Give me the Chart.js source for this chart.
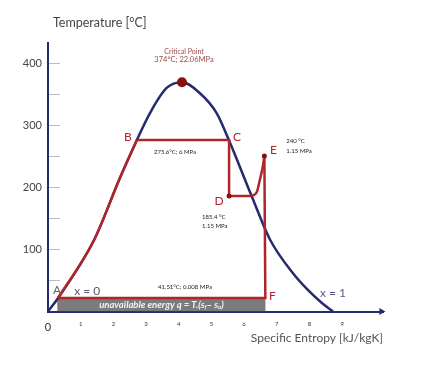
<!DOCTYPE html>
<html><head><meta charset="utf-8">
<script src="https://cdn.jsdelivr.net/npm/chart.js@4.4.0/dist/chart.umd.min.js"></script>
<style>html,body{margin:0;padding:0;background:#fff;}canvas{display:block}</style>
</head><body>
<canvas id="c" width="435" height="367"></canvas>
<script>
// ---- data (entropy kJ/kgK, temperature °C) ----
const domeEntropy = [0, 0.31, 1.41, 2.20, 2.72, 3.12, 3.63, 4.10, 4.65, 5.16, 5.54, 6.23, 6.80, 7.49, 7.95, 8.38, 8.72];
const domeTemp    = [0, 21.8, 115.3, 215.3, 276.6, 320, 360.5, 369.7, 352, 320, 275.8, 186.3, 115.3, 62, 34.7, 13.7, 0];

const pumpBoilerEntropy = [0.31, 1.41, 2.20, 2.72];
const pumpBoilerTemp    = [21.8, 115.3, 215.3, 276.6];
const bcdEntropy = [2.72, 5.54, 5.54, 6.23];
const bcdTemp    = [276.6, 276.6, 186.3, 186.3];
const reheatEntropy = [6.23, 6.39, 6.48, 6.57, 6.62];
const reheatTemp    = [186.3, 192.7, 212, 233, 250.8];
const efaEntropy = [6.62, 6.65, 0.31];
const efaTemp    = [250.8, 21.8, 21.8];

const criticalEntropy = [4.10];
const criticalTemp    = [369.7];
const stateDotEntropy = [5.54, 6.62];   // D, E
const stateDotTemp    = [186.3, 250.8];

const unavailEntropy = [0.28, 6.66];
const unavailTemp    = [20, 20];

const xTickLabels = ['0','1','2','3','4','5','6','7','8','9'];
const yTickLabels = {100:'100', 200:'200', 300:'300', 400:'400'};

const X_MAX = 10.25, Y_MAX = 433;
const NAVY = '#262a6e', RED = '#b0242a', DARKRED = '#8a1010';

const pts = (xs, ys) => xs.map((v, i) => ({x: v, y: ys[i]}));

const annot = {
  id: 'annot',
  afterDatasetsDraw(chart) {
    const {ctx, scales: {x, y}, chartArea} = chart;
    const X = v => x.getPixelForValue(v), Y = v => y.getPixelForValue(v);
    ctx.save();
    const txt = (t, px, py, font, color, align = 'center') => {
      ctx.font = font; ctx.fillStyle = color; ctx.textAlign = align; ctx.textBaseline = 'middle';
      ctx.fillText(t, px, py);
    };
    const F = 'Lato, "Open Sans", sans-serif';
    // axis label (y)
    txt('Temperature [°C]', chartArea.left + 5, chartArea.top - 20, '12.5px ' + F, '#444', 'left');
    // critical point
    const cx = X(criticalEntropy[0]), cy = Y(criticalTemp[0]);
    txt('Critical Point', cx + 2, cy - 31, '7px ' + F, '#9a4a4a');
    txt('374°C; 22.06MPa', cx + 2, cy - 23, '7.5px ' + F, '#9a4a4a');
    // B, C
    const bx = X(bcdEntropy[0]), by = Y(bcdTemp[0]);
    const ccx = X(bcdEntropy[1]);
    txt('B', bx - 9, by - 3, '12px ' + F, RED);
    txt('C', ccx + 8, by - 3, '12px ' + F, RED);
    txt('275.6°C; 6 MPa', (bx + ccx) / 2 - 8, by + 12, '6px ' + F, '#222');
    // D
    const dx = X(stateDotEntropy[0]), dy = Y(stateDotTemp[0]);
    txt('D', dx - 10, dy + 5, '12px ' + F, RED);
    txt('185.4 °C', dx - 27, dy + 21, '6px ' + F, '#222', 'left');
    txt('1.15 MPa', dx - 27, dy + 30, '6px ' + F, '#222', 'left');
    // E
    const ex = X(stateDotEntropy[1]), ey = Y(stateDotTemp[1]);
    txt('E', ex + 9, ey - 6, '12px ' + F, RED);
    txt('240 °C', ex + 22, ey - 15, '6px ' + F, '#222', 'left');
    txt('1.15 MPa', ex + 22, ey - 5, '6px ' + F, '#222', 'left');
    // A, F
    const ax = X(efaEntropy[2]), ay = Y(efaTemp[2]);
    const fx = X(efaEntropy[1]);
    txt('A', ax - 1, ay - 8, '12px ' + F, '#666');
    txt('x = 0', ax + 16, ay - 7, '12px ' + F, '#55556a', 'left');
    txt('41.51°C; 0.008 MPa', X(4.19), ay - 11, '6px ' + F, '#222');
    txt('F', fx + 7, ay - 2, '12px ' + F, RED);
    // x = 1
    const ox = X(domeEntropy[domeEntropy.length - 1]), oy = Y(0);
    txt('x = 1', ox - 13, oy - 18, '12px ' + F, '#5c5c85', 'left');
    // unavailable energy text with subscripts
    const mx = (X(unavailEntropy[0]) + X(unavailEntropy[1])) / 2, my = Y(10);
    const big = 'italic bold 9.5px ' + F, small = 'italic bold 6px ' + F;
    const parts = [['unavailable energy q = T.(s', big, 0], ['f', small, 2], ['– s', big, 0], ['a', small, 2], [')', big, 0]];
    let w = 0;
    parts.forEach(p => { ctx.font = p[1]; w += ctx.measureText(p[0]).width; });
    let px = mx - w / 2;
    ctx.textAlign = 'left'; ctx.textBaseline = 'middle'; ctx.fillStyle = '#f2f2f2';
    parts.forEach(p => { ctx.font = p[1]; ctx.fillText(p[0], px, my + p[2]); px += ctx.measureText(p[0]).width; });
    ctx.restore();
  }
};

new Chart(document.getElementById('c'), {
  type: 'scatter',
  data: {
    datasets: [
      { label: 'critical', data: pts(criticalEntropy, criticalTemp), pointRadius: 5, pointBackgroundColor: DARKRED, pointBorderWidth: 0, showLine: false },
      { label: 'states', data: pts(stateDotEntropy, stateDotTemp), pointRadius: 2.5, pointBackgroundColor: DARKRED, pointBorderWidth: 0, showLine: false },
      { label: 'A-B', data: pts(pumpBoilerEntropy, pumpBoilerTemp), showLine: true, borderColor: RED, borderWidth: 2.5, pointRadius: 0, cubicInterpolationMode: 'monotone' },
      { label: 'B-C-D', data: pts(bcdEntropy, bcdTemp), showLine: true, borderColor: RED, borderWidth: 2.5, pointRadius: 0, tension: 0 },
      { label: 'D-E', data: pts(reheatEntropy, reheatTemp), showLine: true, borderColor: RED, borderWidth: 2.5, pointRadius: 0, cubicInterpolationMode: 'monotone' },
      { label: 'E-F-A', data: pts(efaEntropy, efaTemp), showLine: true, borderColor: RED, borderWidth: 2.5, pointRadius: 0, tension: 0 },
      { label: 'dome', data: pts(domeEntropy, domeTemp), showLine: true, borderColor: NAVY, borderWidth: 2.5, pointRadius: 0, cubicInterpolationMode: 'monotone' },
      { label: 'unavailable', data: pts(unavailEntropy, unavailTemp), showLine: true, borderWidth: 0, borderColor: 'rgba(0,0,0,0)', backgroundColor: '#7b7b7b', fill: 'origin', pointRadius: 0 },
      { label: 'arrow', data: [{x: X_MAX - 0.05, y: 0}], pointStyle: 'triangle', rotation: 90, pointRadius: 4, pointBackgroundColor: NAVY, pointBorderWidth: 0, showLine: false, clip: false }
    ]
  },
  options: {
    responsive: false,
    animation: false,
    devicePixelRatio: 1,
    layout: { padding: { left: 0, top: 43, right: 52, bottom: 15.5 } },
    plugins: { legend: { display: false }, tooltip: { enabled: false } },
    scales: {
      x: {
        type: 'linear', min: 0, max: X_MAX,
        border: { color: NAVY, width: 2 },
        grid: { drawOnChartArea: false, drawTicks: false },
        ticks: {
          stepSize: 1, includeBounds: false, padding: 9, maxRotation: 0, autoSkip: false,
          color: '#333',
          font: c => (c.tick && c.tick.value === 0) ? { family: 'Lato', size: 11 } : { family: 'Lato', size: 6 },
          callback: v => (Number.isInteger(v) && v < xTickLabels.length) ? xTickLabels[v] : ''
        },
        title: { display: true, text: 'Specific Entropy [kJ/kgK]', align: 'end', color: '#555', font: { family: 'Lato', size: 12 }, padding: { top: 0, bottom: 6 } },
        afterFit: s => { s.height = 40; }
      },
      y: {
        type: 'linear', min: 0, max: Y_MAX,
        border: { color: NAVY, width: 2 },
        grid: { drawOnChartArea: false, drawTicks: true, tickLength: -12, color: '#bbb' },
        ticks: {
          stepSize: 50, includeBounds: false, padding: 18, color: '#444',
          font: { family: 'Lato', size: 11 },
          callback: v => yTickLabels[v] || ''
        },
        afterFit: s => { s.width = 48; }
      }
    }
  },
  plugins: [annot]
});
</script>
</body></html>
